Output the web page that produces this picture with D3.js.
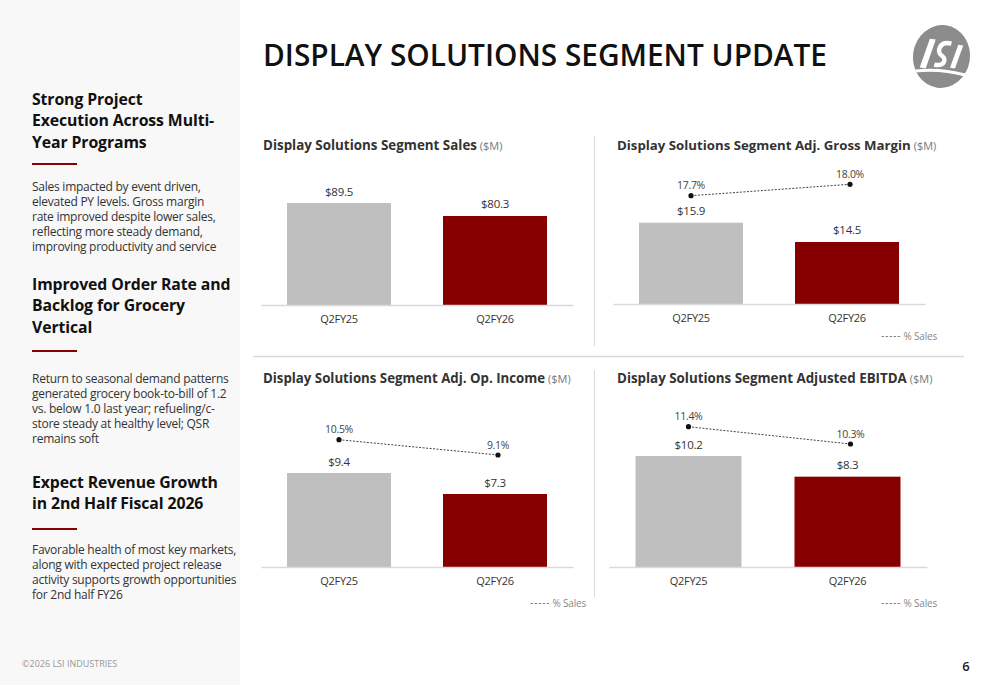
<!doctype html>
<html lang="en">
<head>
<meta charset="UTF-8">
<title>Display Solutions Segment Update</title>
<script src="https://d3js.org/d3.v7.min.js"></script>
<style>
  html, body { margin: 0; padding: 0; background: #fff; }
  svg { display: block; font-family: "Open Sans", "Noto Sans", sans-serif; }
</style>
</head>
<body>
<div id="chart-area"></div>
<script>

// ---- data ----
const categories = ['Q2FY25', 'Q2FY26'];
const salesValues = [89.5, 80.3];
const grossMarginValues = [15.9, 14.5];
const grossMarginPct = [17.7, 18.0];
const opIncomeValues = [9.4, 7.3];
const opIncomePct = [10.5, 9.1];
const ebitdaValues = [10.2, 8.3];
const ebitdaPct = [11.4, 10.3];

const chartTitles = [
    'Display Solutions Segment Sales',
    'Display Solutions Segment Adj. Gross Margin',
    'Display Solutions Segment Adj. Op. Income',
    'Display Solutions Segment Adjusted EBITDA'
];

const sideBlocks = [
    { head: ['Strong Project', 'Execution Across Multi-', 'Year Programs'],
      body: ['Sales impacted by event driven,', 'elevated PY levels.  Gross margin',
             'rate improved despite lower sales,', 'reflecting more steady demand,',
             'improving productivity and service'] },
    { head: ['Improved Order Rate and', 'Backlog for Grocery', 'Vertical'],
      body: ['Return to seasonal demand patterns', 'generated grocery book-to-bill of 1.2',
             'vs. below 1.0 last year; refueling/c-', 'store steady at healthy level; QSR',
             'remains soft'] },
    { head: ['Expect Revenue Growth', 'in 2nd Half Fiscal 2026'],
      body: ['Favorable health of most key markets,', 'along with expected project release',
             'activity supports growth opportunities', 'for 2nd half FY26'] }
];

// ---- layout ----
const W = 1000, H = 685;
const barColors = ['#bfbfbf', '#860000'];

const svg = d3.select('#chart-area')
    .append('svg')
    .attr('width', W)
    .attr('height', H);

svg.append('rect').attr('width', 240).attr('height', H).attr('fill', '#f8f8f8');

// fit text to a target width by changing its font size
function fit(sel, target) {
    const w = sel.node().getComputedTextLength();
    const fs = parseFloat(sel.attr('font-size'));
    sel.attr('font-size', (fs * target / w).toFixed(2));
}

// main title
const title = svg.append('text')
    .attr('x', 263).attr('y', 66)
    .attr('font-size', 32).attr('font-weight', 600)
    .attr('fill', '#111')
    .text('DISPLAY SOLUTIONS SEGMENT UPDATE');
fit(title, 564);

// logo
const logo = svg.append('g').attr('transform', 'translate(941.5,56.5) rotate(8)');
logo.append('ellipse').attr('rx', 28.5).attr('ry', 31.5).attr('fill', '#8c8c8c');
logo.append('path')
    .attr('d', 'M-14,-16 L-20,14 L-14,14 L-8,-16 Z')
    .attr('fill', '#fff');
logo.append('path')
    .attr('d', 'M8,-14 C-4,-16 -6,-4 0,-1 C6,2 4,10 -6,9')
    .attr('fill', 'none').attr('stroke', '#fff').attr('stroke-width', 4.5);
logo.append('path')
    .attr('d', 'M15,-14 L10,10 L15,10 L20,-14 Z')
    .attr('fill', '#fff');
logo.append('path')
    .attr('d', 'M-24,18 C-8,14 10,13 26,15')
    .attr('fill', 'none').attr('stroke', '#fff').attr('stroke-width', 3);

// side panel
const headY = [99, 284, 482];
const ruleY = [164, 351, 529];
const bodyY = [186, 378, 549];
sideBlocks.forEach((b, i) => {
    b.head.forEach((line, j) => {
        svg.append('text')
            .attr('x', 32).attr('y', headY[i] + j * 21.5 + 5.5)
            .attr('font-size', 15.8).attr('font-weight', 700)
            .attr('fill', '#111')
            .attr('letter-spacing', -0.1)
            .text(line);
    });
    svg.append('rect')
        .attr('x', 32).attr('y', ruleY[i] - 1)
        .attr('width', 45).attr('height', 2)
        .attr('fill', '#8b0000');
    b.body.forEach((line, j) => {
        svg.append('text')
            .attr('x', 32).attr('y', bodyY[i] + j * 15 + 4.5)
            .attr('font-size', 12).attr('fill', '#333')
            .attr('letter-spacing', -0.25)
            .text(line);
    });
});

// footer
svg.append('text').attr('x', 22).attr('y', 667)
    .attr('font-size', 9).attr('fill', '#999')
    .text('\u00A92026 LSI INDUSTRIES');
svg.append('text').attr('x', 966).attr('y', 671).attr('text-anchor', 'middle')
    .attr('font-size', 13).attr('font-weight', 600).attr('fill', '#222')
    .text('6');

// dividers
const divColor = '#d9d9d9';
svg.append('line').attr('x1', 594.5).attr('x2', 594.5).attr('y1', 136).attr('y2', 346)
    .attr('stroke', divColor);
svg.append('line').attr('x1', 253).attr('x2', 964).attr('y1', 356.5).attr('y2', 356.5)
    .attr('stroke', divColor).attr('stroke-width', 1.5);
svg.append('line').attr('x1', 594.5).attr('x2', 594.5).attr('y1', 370).attr('y2', 597)
    .attr('stroke', divColor);

// panels
const panels = [
    { title: chartTitles[0], values: salesValues, pct: null,
      tx: 263, ty: 150, tw: 214,
      x0: 261, x1: 573, base: 305, yDom: [17.3, 89.5], yTop: 203 },
    { title: chartTitles[1], values: grossMarginValues, pct: grossMarginPct,
      tx: 617, ty: 150, tw: 294,
      x0: 613, x1: 925, base: 304, yDom: [10, 15.9], yTop: 222.7,
      pDom: [17.7, 18.0], pRange: [195.7, 184.3], legend: [937, 336] },
    { title: chartTitles[2], values: opIncomeValues, pct: opIncomePct,
      tx: 263, ty: 383, tw: 282,
      x0: 261, x1: 573, base: 567, yDom: [0, 9.4], yTop: 473,
      pDom: [9.1, 10.5], pRange: [455, 439.7], legend: [586, 603] },
    { title: chartTitles[3], values: ebitdaValues, pct: ebitdaPct,
      tx: 617, ty: 383, tw: 290,
      x0: 609, x1: 927, base: 567, yDom: [0, 10.2], yTop: 456,
      pDom: [10.3, 11.4], pRange: [444, 426.7], legend: [937, 603] }
];

panels.forEach(p => {
    const g = svg.append('g');

    // title
    const t = g.append('text')
        .attr('x', p.tx).attr('y', p.ty)
        .attr('font-size', 14).attr('font-weight', 700)
        .attr('fill', '#333');
    const main = t.append('tspan').text(p.title);
    const w = main.node().getComputedTextLength();
    t.attr('font-size', (14 * p.tw / w).toFixed(2));
    t.append('tspan')
        .attr('font-size', 11).attr('font-weight', 400).attr('fill', '#777')
        .text(' ($M)');

    const x = d3.scaleBand()
        .domain(categories)
        .range([p.x0, p.x1])
        .paddingInner(1 / 3)
        .paddingOuter(1 / 6);

    const y = d3.scaleLinear()
        .domain(p.yDom)
        .range([p.base, p.yTop]);

    g.selectAll('rect.bar')
        .data(p.values)
        .enter()
        .append('rect')
            .attr('class', 'bar')
            .attr('x', (d, i) => x(categories[i]))
            .attr('y', d => y(d))
            .attr('width', x.bandwidth())
            .attr('height', d => p.base - y(d))
            .attr('fill', (d, i) => barColors[i]);

    g.selectAll('text.val')
        .data(p.values)
        .enter()
        .append('text')
            .attr('class', 'val')
            .attr('x', (d, i) => x(categories[i]) + x.bandwidth() / 2)
            .attr('y', d => y(d) - 7.5)
            .attr('text-anchor', 'middle')
            .attr('font-size', 11.5).attr('fill', '#333')
            .attr('letter-spacing', -0.3)
            .text(d => '$' + d.toFixed(1));

    // baseline axis
    const axis = g.append('g')
        .attr('transform', `translate(0,${p.base})`)
        .call(d3.axisBottom(x).tickSize(0).tickPadding(10));
    axis.select('.domain').attr('stroke', '#d9d9d9').attr('stroke-width', 1.5);
    axis.selectAll('text')
        .attr('font-family', '"Open Sans", sans-serif')
        .attr('font-size', 11).attr('fill', '#333')
        .attr('letter-spacing', -0.3);

    if (p.pct) {
        const py = d3.scaleLinear().domain(p.pDom).range(p.pRange);
        const cx = (d, i) => x(categories[i]) + x.bandwidth() / 2 + i * 3;
        const line = d3.line().x(cx).y(d => py(d));

        g.append('path')
            .datum(p.pct)
            .attr('d', line)
            .attr('fill', 'none')
            .attr('stroke', '#444')
            .attr('stroke-width', 1)
            .attr('stroke-dasharray', '2,1.5');

        g.selectAll('circle.pt')
            .data(p.pct)
            .enter()
            .append('circle')
                .attr('class', 'pt')
                .attr('cx', cx)
                .attr('cy', d => py(d))
                .attr('r', 2.6)
                .attr('fill', '#111');

        g.selectAll('text.pct')
            .data(p.pct)
            .enter()
            .append('text')
                .attr('class', 'pct')
                .attr('x', cx)
                .attr('y', d => py(d) - 6.5)
                .attr('text-anchor', 'middle')
                .attr('font-size', 10.5).attr('fill', '#444')
                .attr('letter-spacing', -0.3)
                .text(d => d.toFixed(1) + '%');

        // legend
        const lg = g.append('g').attr('transform', `translate(${p.legend[0]},${p.legend[1]})`);
        const lt = lg.append('text')
            .attr('x', 0).attr('y', 3.5)
            .attr('text-anchor', 'end')
            .attr('font-size', 10).attr('fill', '#888')
            .attr('letter-spacing', -0.2)
            .text('% Sales');
        const lw = lt.node().getComputedTextLength();
        lg.append('line')
            .attr('x1', -lw - 22).attr('x2', -lw - 3)
            .attr('y1', 0.5).attr('y2', 0.5)
            .attr('stroke', '#888').attr('stroke-width', 1)
            .attr('stroke-dasharray', '2.5,1.5');
    }
});

</script>
</body>
</html>
